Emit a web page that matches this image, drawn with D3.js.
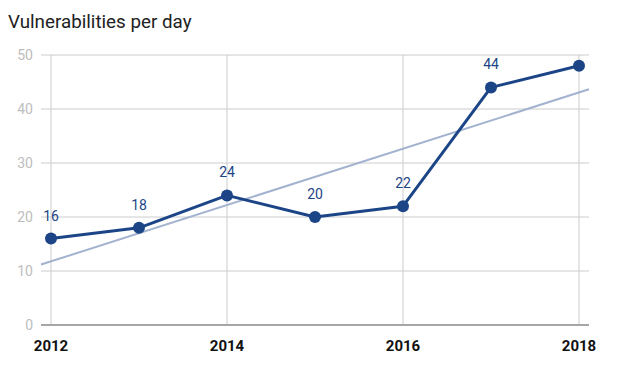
<!DOCTYPE html>
<head>
    <meta charset="utf-8">
    <script src="https://d3js.org/d3.v7.min.js"></script>
    <style>
        body { margin: 0; background: #fff; }
        text { font-family: Roboto, "Noto Sans", sans-serif; }
    </style>
</head>

<body>
    <div id="chart"></div>
</body>

<script>

    const years = [2012, 2013, 2014, 2015, 2016, 2017, 2018];
    const values = [16, 18, 24, 20, 22, 44, 48];
    const yTicks = [0, 10, 20, 30, 40, 50];
    const xTicks = [2012, 2014, 2016, 2018];

    const width = 633, height = 387;
    const plot = {left: 41, right: 589, top: 55, bottom: 325};

    const svg = d3.select("#chart")
        .append("svg")
            .attr("width", width)
            .attr("height", height);

    // title
    svg.append("text")
        .attr("x", 8)
        .attr("y", 28)
        .attr("font-size", 18.8)
        .attr("fill", "#212121")
        .text("Vulnerabilities per day");

    const x = d3.scaleLinear()
        .domain([2012, 2018])
        .range([plot.left + 10, plot.right - 10]);

    const y = d3.scaleLinear()
        .domain([0, 50])
        .range([plot.bottom, plot.top]);

    // horizontal grid
    svg.selectAll(".hgrid")
        .data(yTicks.filter(d => d > 0))
        .join("line")
            .attr("x1", plot.left)
            .attr("x2", plot.right)
            .attr("y1", d => y(d))
            .attr("y2", d => y(d))
            .attr("stroke", "#cccccc")
            .attr("stroke-width", 1);

    // vertical grid
    svg.selectAll(".vgrid")
        .data(xTicks)
        .join("line")
            .attr("x1", d => x(d))
            .attr("x2", d => x(d))
            .attr("y1", plot.top)
            .attr("y2", plot.bottom)
            .attr("stroke", "#cccccc")
            .attr("stroke-width", 1);

    // baseline
    svg.append("line")
        .attr("x1", plot.left)
        .attr("x2", plot.right)
        .attr("y1", y(0))
        .attr("y2", y(0))
        .attr("stroke", "#888888")
        .attr("stroke-width", 1.5);

    // y labels
    svg.selectAll(".ylab")
        .data(yTicks)
        .join("text")
            .attr("x", 33)
            .attr("y", d => y(d) + 5)
            .attr("text-anchor", "end")
            .attr("font-size", 14)
            .attr("fill", "#bdbdbd")
            .text(d => d);

    // x labels
    svg.selectAll(".xlab")
        .data(xTicks)
        .join("text")
            .attr("x", d => x(d))
            .attr("y", 351)
            .attr("text-anchor", "middle")
            .attr("font-size", 15)
            .attr("font-weight", "bold")
            .attr("fill", "#111111")
            .text(d => d);

    // linear trend (least squares fit of the series)
    const mx = d3.mean(years), my = d3.mean(values);
    const slope = d3.sum(years, (d, i) => (d - mx) * (values[i] - my)) / d3.sum(years, d => (d - mx) ** 2);
    const trend = t => my + slope * (t - mx);
    const xEnds = [x.invert(plot.left), x.invert(plot.right)];

    svg.append("line")
        .attr("x1", x(xEnds[0]))
        .attr("x2", x(xEnds[1]))
        .attr("y1", y(trend(xEnds[0])))
        .attr("y2", y(trend(xEnds[1])))
        .attr("stroke", "#a3b2cf")
        .attr("stroke-width", 2);

    // data line
    const data = years.map((d, i) => ({year: d, value: values[i]}));

    svg.append("path")
        .datum(data)
        .attr("fill", "none")
        .attr("stroke", "#1c4587")
        .attr("stroke-width", 3)
        .attr("stroke-linejoin", "round")
        .attr("d", d3.line()
            .x(d => x(d.year))
            .y(d => y(d.value)));

    svg.selectAll(".dot")
        .data(data)
        .join("circle")
            .attr("cx", d => x(d.year))
            .attr("cy", d => y(d.value))
            .attr("r", 6)
            .attr("fill", "#1c4587");

    // data labels (last point has none)
    svg.selectAll(".dlab")
        .data(data.slice(0, -1))
        .join("text")
            .attr("x", d => x(d.year))
            .attr("y", d => y(d.value) - 18)
            .attr("text-anchor", "middle")
            .attr("font-size", 14)
            .attr("fill", "#1c4587")
            .text(d => d.value);

</script>
</html>
